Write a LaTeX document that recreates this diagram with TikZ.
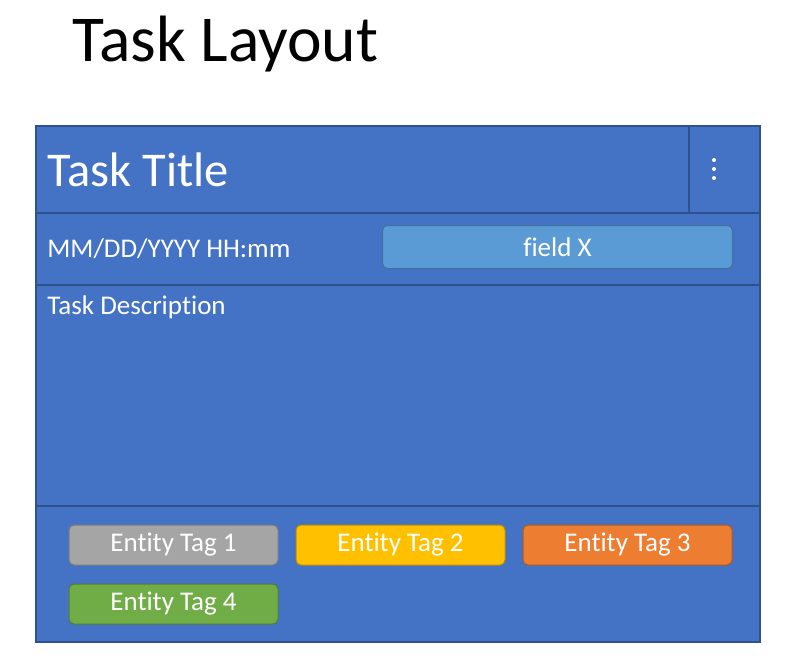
\documentclass[tikz,border=0pt]{standalone}
\usepackage{fontspec}
\setmainfont{Carlito}[Ligatures=NoCommon]
\usetikzlibrary{positioning}
\definecolor{cardfill}{HTML}{4472C4}
\definecolor{cardline}{HTML}{2F528F}
\definecolor{fieldfill}{HTML}{5B9BD5}
\definecolor{fieldline}{HTML}{41719C}
\definecolor{tagone}{HTML}{A5A5A5}
\definecolor{tagoneline}{HTML}{7C7C7C}
\definecolor{tagtwo}{HTML}{FFC000}
\definecolor{tagtwoline}{HTML}{BC8C00}
\definecolor{tagthree}{HTML}{ED7D31}
\definecolor{tagthreeline}{HTML}{AE5A21}
\definecolor{tagfour}{HTML}{70AD47}
\definecolor{tagfourline}{HTML}{507E32}

\begin{document}
\begin{tikzpicture}[x=1pt, y=-1pt, style=thick,
  section/.style={rectangle, draw=cardline, fill=cardfill, line width=1.5pt,
    anchor=north west, inner sep=0pt, outer sep=0pt},
  label/.style={anchor=west, inner sep=0pt, text=white},
  tag/.style={rectangle, rounded corners=5pt, line width=1pt, inner sep=0pt,
    outer sep=0pt, minimum width=209pt, minimum height=40pt, text=white,
    font=\fontsize{27}{32}\selectfont}]

\useasboundingbox (0,0) rectangle (789,665);

\node (heading) at (72,44) [anchor=west, inner sep=0pt]
  {\fontsize{65.5}{72}\selectfont Task Layout};

% card sections
\node (titlerow) at (36,126) [section, minimum width=653pt, minimum height=87pt]{};
\node (menu) at (689,126) [section, minimum width=71pt, minimum height=87pt]{};
\node (daterow) at (36,213) [section, minimum width=724pt, minimum height=72pt]{};
\node (descrow) at (36,285) [section, minimum width=724pt, minimum height=221pt]{};
\node (tagrow) at (36,506) [section, minimum width=724pt, minimum height=136pt]{};

\node (title) at (47,170) [label, font=\fontsize{48.5}{54}\selectfont]{Task Title};
\foreach \y [count=\i] in {160,169,178}
  \node (dot\i) at (714,\y) [circle, fill=white, inner sep=0pt, minimum size=4pt]{};

\node (date) at (47,249) [label, font=\fontsize{27}{32}\selectfont]{MM/DD/YYYY HH:mm};
\node (field) at (382,225) [anchor=north west, rectangle, rounded corners=5pt,
  draw=fieldline, fill=fieldfill, line width=1pt, inner sep=0pt,
  minimum width=350pt, minimum height=43pt, text=white,
  font=\fontsize{27}{32}\selectfont]{field X};

\node (desc) at (47,307) [label, font=\fontsize{27}{32}\selectfont]{Task Description};

% entity tags
\node (tag1) at (69,525) [tag, anchor=north west, draw=tagoneline, fill=tagone]{Entity Tag 1};
\node (tag2) [tag, draw=tagtwoline, fill=tagtwo, right=18pt of tag1]{Entity Tag 2};
\node (tag3) [tag, draw=tagthreeline, fill=tagthree, right=18pt of tag2]{Entity Tag 3};
\node (tag4) [tag, draw=tagfourline, fill=tagfour, below=19pt of tag1]{Entity Tag 4};

\end{tikzpicture}
\end{document}
